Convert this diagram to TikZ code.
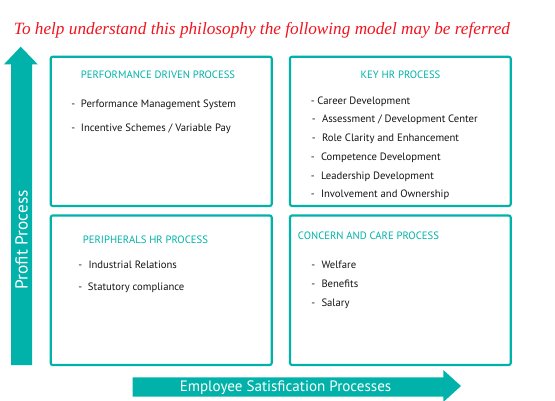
\documentclass[tikz,border=0pt]{standalone}
\usepackage{fontspec}
\setmainfont{PT Sans}
\newfontfamily\titlefont{Liberation Serif}
\definecolor{teal}{RGB}{0,178,169}
\definecolor{titlered}{RGB}{240,20,30}
\definecolor{bodytext}{RGB}{20,20,20}
\tikzset{
  qbox/.style={draw=teal, line width=1.6pt, rounded corners=1.5pt},
  head/.style={anchor=west, inner sep=0pt, text=teal, font=\fontsize{8}{9}\selectfont},
  item/.style={anchor=west, inner sep=0pt, text=bodytext, font=\fontsize{8}{9}\selectfont},
  axis/.style={fill=teal, draw=none},
  axislabel/.style={inner sep=0pt, text=white}
}
\begin{document}
\begin{tikzpicture}[x=0.75pt, y=-0.75pt]
\useasboundingbox (0,0) rectangle (555,400);
\clip (0,0) rectangle (555,400);

% title
\node[inner sep=0pt, text=titlered] (title) at (262,30) {\resizebox{372pt}{!}{\titlefont\itshape\fontsize{14}{16}\selectfont To help understand this philosophy the following model may be referred}};

% quadrant boxes
\draw[qbox] (50.7,56.7) rectangle (271.7,206) node[midway] (tl) {};
\draw[qbox] (290,56.7) rectangle (510.7,206) node[midway] (tr) {};
\draw[qbox] (50.7,215.5) rectangle (271.7,365) node[midway] (bl) {};
\draw[qbox] (290,215.5) rectangle (510.7,365) node[midway] (br) {};

% top-left
\node[head, anchor=center] (h1) at (158,75) {PERFORMANCE DRIVEN PROCESS};
\node[item] (a1) at (71,105) {-\hspace{0.55em}Performance Management System};
\node[item] (a2) at (71,129) {-\hspace{0.55em}Incentive Schemes / Variable Pay};

% top-right
\node[head, anchor=center] (h2) at (400.5,75) {KEY HR PROCESS};
\node[item] (b1) at (310.5,101.7) {- Career Development};
\node[item] (b2) at (311.5,120) {-\hspace{0.6em}Assessment / Development Center};
\node[item] (b3) at (311.5,139) {-\hspace{0.6em}Role Clarity and Enhancement};
\node[item] (b4) at (310.5,157.3) {-\hspace{0.6em}Competence Development};
\node[item] (b5) at (310.5,176.5) {-\hspace{0.6em}Leadership Development};
\node[item] (b6) at (310.5,194.3) {-\hspace{0.6em}Involvement and Ownership};

% bottom-left
\node[head] (h3) at (82.7,239.3) {PERIPHERALS HR PROCESS};
\node[item] (c1) at (78,265) {-\hspace{0.6em}Industrial Relations};
\node[item] (c2) at (78,287.7) {-\hspace{0.55em}Statutory compliance};

% bottom-right
\node[head] (h4) at (297.7,236) {CONCERN AND CARE PROCESS};
\node[item] (d1) at (311,265) {-\hspace{0.6em}Welfare};
\node[item] (d2) at (311,284) {-\hspace{0.6em}Benefits};
\node[item] (d3) at (311,303.3) {-\hspace{0.6em}Salary};

% vertical axis arrow
\fill[axis] (11,365) -- (11,64.3) -- (4,64.3) -- (20.7,46.7) -- (37.7,64.3) -- (32,64.3) -- (32,365) -- cycle;
\node[axislabel, rotate=90, font=\fontsize{13}{15}\selectfont] (ylab) at (21.5,240) {Profit Process};

% horizontal axis arrow
\fill[axis] (132.7,377.3) -- (443.3,377.3) -- (443.3,370) -- (461,386) -- (443.3,402) -- (443.3,396.7) -- (132.7,396.7) -- cycle;
\node[axislabel, font=\fontsize{11.3}{13}\selectfont] (xlab) at (285.5,387.5) {Employee Satisfication Processes};
\end{tikzpicture}
\end{document}
